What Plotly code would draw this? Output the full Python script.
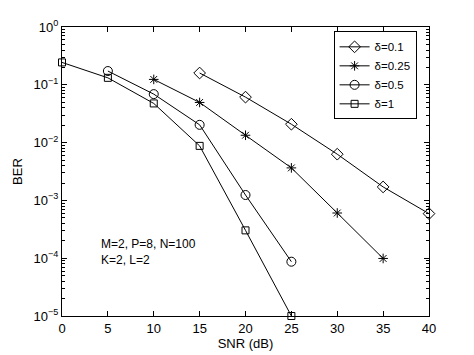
import plotly.graph_objects as go

snr_01 = [15, 20, 25, 30, 35, 40]
ber_01 = [0.16, 0.0612, 0.0208, 0.0063, 0.00171, 0.00059]
snr_025 = [10, 15, 20, 25, 30, 35]
ber_025 = [0.124, 0.0495, 0.0134, 0.00365, 0.000605, 0.000099]
snr_05 = [5, 10, 15, 20, 25]
ber_05 = [0.173, 0.069, 0.0203, 0.00124, 0.000087]
snr_1 = [0, 5, 10, 15, 20, 25]
ber_1 = [0.244, 0.132, 0.0476, 0.00877, 0.000303, 0.00001]

y_tick_vals = [1e-5, 1e-4, 1e-3, 1e-2, 1e-1, 1]
y_tick_text = ["10<sup>−5</sup>", "10<sup>−4</sup>", "10<sup>−3</sup>",
               "10<sup>−2</sup>", "10<sup>−1</sup>", "10<sup>0</sup>"]
x_tick_vals = [0, 5, 10, 15, 20, 25, 30, 35, 40]

series = [
    ("δ=0.1", snr_01, ber_01, "diamond-open", 9),
    ("δ=0.25", snr_025, ber_025, "asterisk-open", 8),
    ("δ=0.5", snr_05, ber_05, "circle-open", 9),
    ("δ=1", snr_1, ber_1, "square-open", 7),
]

FONT = "Liberation Sans, Arial, Helvetica, sans-serif"

minor_vals = [m * 10 ** e for e in range(-5, 0) for m in range(2, 10)]

fig = go.Figure()
for name, x, y, sym, sz in series:
    fig.add_trace(go.Scatter(
        x=x, y=y, name=name, mode="lines+markers", cliponaxis=False,
        line=dict(color="black", width=1),
        marker=dict(symbol=sym, size=sz, color="black",
                    line=dict(color="black", width=1)),
    ))

fig.add_annotation(x=4.0, y=-3.89, xref="x", yref="y", text="M=2, P=8, N=100<br>K=2, L=2",
                   showarrow=False, xanchor="left", yanchor="middle", align="left",
                   font=dict(family=FONT, size=12, color="black"))

fig.update_layout(
    width=474, height=355,
    margin=dict(l=62, r=45, t=27, b=39),
    paper_bgcolor="white", plot_bgcolor="white",
    font=dict(family=FONT, size=13, color="black"),
    showlegend=True,
    legend=dict(x=0.74, y=0.985, xanchor="left", yanchor="top",
                bordercolor="black", borderwidth=1, bgcolor="white",
                font=dict(family=FONT, size=11.5), tracegroupgap=0,
                itemwidth=30),
)
fig.update_xaxes(
    range=[0, 40], tickmode="array", tickvals=x_tick_vals,
    ticks="inside", ticklen=5, tickcolor="black",
    showline=True, linecolor="black", linewidth=1, mirror="ticks",
    showgrid=False, zeroline=False, automargin=False,
    title=dict(text="SNR (dB)", font=dict(size=13), standoff=4),
)
fig.update_yaxes(
    type="log", range=[-5, 0], tickmode="array",
    tickvals=y_tick_vals, ticktext=y_tick_text,
    ticks="inside", ticklen=5, tickcolor="black",
    minor=dict(tickmode="array", tickvals=minor_vals, ticks="inside",
               ticklen=3, tickcolor="black", showgrid=False),
    showline=True, linecolor="black", linewidth=1, mirror="ticks",
    showgrid=False, zeroline=False, automargin=False,
    title=dict(text="BER", font=dict(size=13), standoff=8),
)

fig.write_html("out.html", config={"displayModeBar": False},
               post_script="document.body.style.margin='0';document.body.style.overflow='hidden';")
